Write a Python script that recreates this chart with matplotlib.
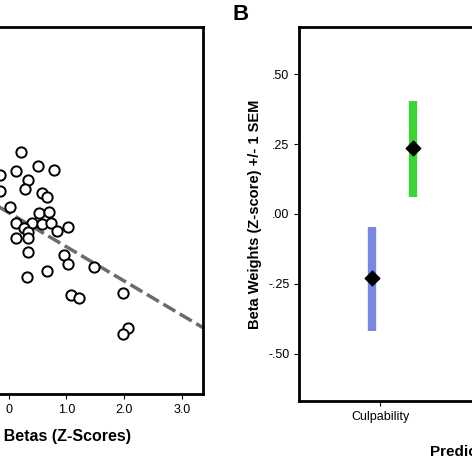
import matplotlib
matplotlib.use("Agg")
import matplotlib.pyplot as plt

plt.rcParams['font.family'] = ['Liberation Sans', 'DejaVu Sans']

# Panel A scatter (x: betas z-score, y: arbitrary)
scatter_x = [0.21, 0.50, 0.79, 0.12, -0.14, 0.34, 0.28, 0.57, 0.66, -0.15, 0.02, 0.53, 0.69,
             0.12, 0.41, 0.57, 0.74, 0.26, 0.33, 0.84, 1.02, 0.12, 0.34, 0.34, 0.95, 1.02,
             1.47, 0.66, 0.31, 1.07, 1.22, 1.98, 2.07, 1.98]
scatter_y = [4.17, 3.93, 3.86, 3.84, 3.77, 3.69, 3.53, 3.47, 3.40, 3.50, 3.22, 3.12, 3.14,
             2.95, 2.95, 2.93, 2.95, 2.86, 2.79, 2.81, 2.88, 2.69, 2.69, 2.45, 2.40, 2.24,
             2.19, 2.12, 2.02, 1.71, 1.66, 1.74, 1.14, 1.03]
line_intercept = 3.13
line_slope = -0.591

# Panel B
categories = ["Culpability"]
bar_pos = [-0.08, 0.33]
means = [-0.23, 0.237]
lows = [-0.42, 0.06]
highs = [-0.045, 0.405]
colors = ["#7b86dd", "#3fd13a"]

W = 472
fig = plt.figure(figsize=(4.72, 4.72), dpi=100)

def rect(l, t, r, b):
    return [l / W, 1 - b / W, (r - l) / W, (b - t) / W]

axA = fig.add_axes(rect(-40, 27, 203, 394))
axA.set_xlim(-0.84, 3.36)
axA.set_ylim(0, 6.33)
axA.scatter(scatter_x, scatter_y, s=55, facecolors='white', edgecolors='black', linewidths=1.4, zorder=3)
xs = [-0.84, 3.36]
axA.plot(xs, [line_intercept + line_slope * x for x in xs], ls='--', color='#6b6b6b', lw=2.5, dashes=(4, 1.5), zorder=2)
axA.set_xticks([0, 1, 2, 3])
axA.set_xticklabels(["0", "1.0", "2.0", "3.0"], fontsize=9)
axA.set_yticks([])
for s in axA.spines.values():
    s.set_linewidth(2)
fig.text(131 / W, 1 - 437 / W, "Mean Betas (Z-Scores)", ha='right', va='center', fontsize=11.5, fontweight='bold')

axB = fig.add_axes(rect(299, 27, 560, 401))
axB.set_xlim(-0.81, 1.8)
axB.set_ylim(-0.67, 0.67)
for x, lo, hi, c in zip(bar_pos, lows, highs, colors):
    axB.vlines(x, lo, hi, color=c, lw=6, zorder=2)
axB.scatter(bar_pos, means, marker='D', s=55, color='black', zorder=3)
axB.set_yticks([0.5, 0.25, 0, -0.25, -0.5])
axB.set_yticklabels([".50", ".25", ".00", "-.25", "-.50"], fontsize=9)
axB.set_xticks([0])
axB.set_xticklabels(categories, fontsize=9)
for s in axB.spines.values():
    s.set_linewidth(2)
axB.set_ylabel("Beta Weights (Z-score) +/- 1 SEM", fontsize=10.5, fontweight='bold')
fig.text(430 / W, 1 - 452 / W, "Predictor", ha='left', va='center', fontsize=11, fontweight='bold')
fig.text(233 / W, 1 - 15 / W, "B", ha='left', va='center', fontsize=16, fontweight='bold')

fig.savefig("out.png", dpi=100)
